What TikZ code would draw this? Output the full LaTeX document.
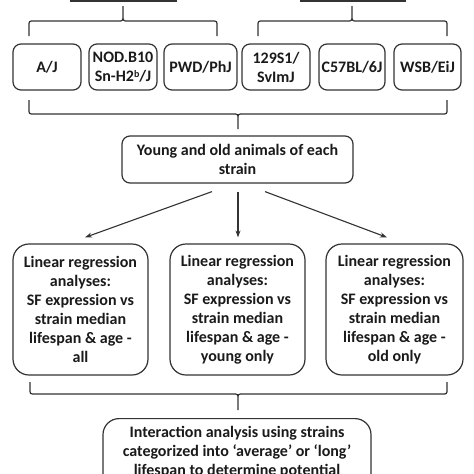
\documentclass[tikz,border=0pt]{standalone}
\usepackage{fontspec}
\setmainfont{Carlito}
\usetikzlibrary{arrows.meta}
\definecolor{linec}{HTML}{333333}
\definecolor{textc}{HTML}{1A1A1A}
\begin{document}
\begin{tikzpicture}[x=1pt,y=-1pt,
  box/.style={draw=linec, line width=1.2pt, rounded corners=8pt, align=center,
    font=\fontsize{16}{19}\selectfont\bfseries, text=textc, inner sep=0pt},
  strainbox/.style={box, minimum height=46pt},
  linbox/.style={box, rounded corners=16pt, minimum width=135pt, minimum height=131pt},
  brc/.style={draw=linec, line width=1.2pt},
  arr/.style={draw=linec, line width=1.1pt, -{Stealth[length=7pt,width=5pt]}}]
\useasboundingbox (0,0) rectangle (474,474);
\clip (0,0) rectangle (474,474);
\fill[white] (0,0) rectangle (474,474);
% dark header boxes (cut off at the top)
\fill[linec] (70,-20) rectangle (177,2);
\fill[linec] (300,-20) rectangle (406,2);
% top braces
\draw[brc] (29,36) -- (29,26) .. controls (29,21) .. (34,21) -- (118,21) .. controls (123,21) .. (123,15) -- (123,6)
  (123,15) .. controls (123,21) .. (128,21) -- (212,21) .. controls (217,21) .. (217,26) -- (217,36);
\draw[brc] (258,36) -- (258,26) .. controls (258,21) .. (263,21) -- (347,21) .. controls (352,21) .. (352,15) -- (352,6)
  (352,15) .. controls (352,21) .. (357,21) -- (442,21) .. controls (447,21) .. (447,26) -- (447,36);
% strain boxes
\node[strainbox, minimum width=68pt] (aj) at (47,67) {A/J};
\node[strainbox, minimum width=68pt] (nod) at (123,67) {NOD.B10\\Sn-H2\raisebox{0.55ex}{\fontsize{10}{10}\selectfont b}/J};
\node[strainbox, minimum width=73pt] (pwd) at (200.5,67) {PWD/PhJ};
\node[strainbox, minimum width=68pt] (s129) at (276,67) {129S1/\\SvImJ};
\node[strainbox, minimum width=66pt] (c57) at (352,67) {C57BL/6J};
\node[strainbox, minimum width=67pt] (wsb) at (427.5,67) {WSB/EiJ};
% brace under strains
\draw[brc] (29,100) -- (29,109) .. controls (29,114) .. (34,114) -- (233,114) .. controls (238,114) .. (238,119) -- (238,129)
  (238,119) .. controls (238,114) .. (243,114) -- (442,114) .. controls (447,114) .. (447,109) -- (447,100);
% young box
\node[box, minimum width=231pt, minimum height=47pt] (young) at (237.5,159.5) {Young and old animals of each\\strain};
% linear regression boxes
\node[linbox] (lin1) at (80.5,309.5) {Linear regression\\analyses:\\SF expression vs\\strain median\\lifespan \& age -\\all};
\node[linbox] (lin2) at (237.5,309.5) {Linear regression\\analyses:\\SF expression vs\\strain median\\lifespan \& age -\\young only};
\node[linbox, minimum width=137pt] (lin3) at (394.5,309.5) {Linear regression\\analyses:\\SF expression vs\\strain median\\lifespan \& age -\\old only};
% arrows
\draw[arr] ([xshift=-25.5pt,yshift=-8pt]young.south) -- ([xshift=4.5pt,yshift=6pt]lin1.north);
\draw[arr] ([xshift=0.5pt,yshift=-8pt]young.south) -- ([xshift=0.5pt,yshift=6pt]lin2.north);
\draw[arr] ([xshift=27.5pt,yshift=-8pt]young.south) -- ([xshift=-7.5pt,yshift=6pt]lin3.north);
% brace under linear boxes
\draw[brc] (30,382) -- (30,389) .. controls (30,394) .. (35,394) -- (233,394) .. controls (238,394) .. (238,399) -- (238,410)
  (238,399) .. controls (238,394) .. (243,394) -- (442,394) .. controls (447,394) .. (447,389) -- (447,382);
% bottom box (cut off at the bottom)
\node[box, rounded corners=16pt, anchor=north, minimum width=268pt, inner ysep=8pt] (inter) at (237,418)
  {Interaction analysis using strains\\categorized into ‘average’ or ‘long’\\lifespan to determine potential\\};
\end{tikzpicture}
\end{document}
